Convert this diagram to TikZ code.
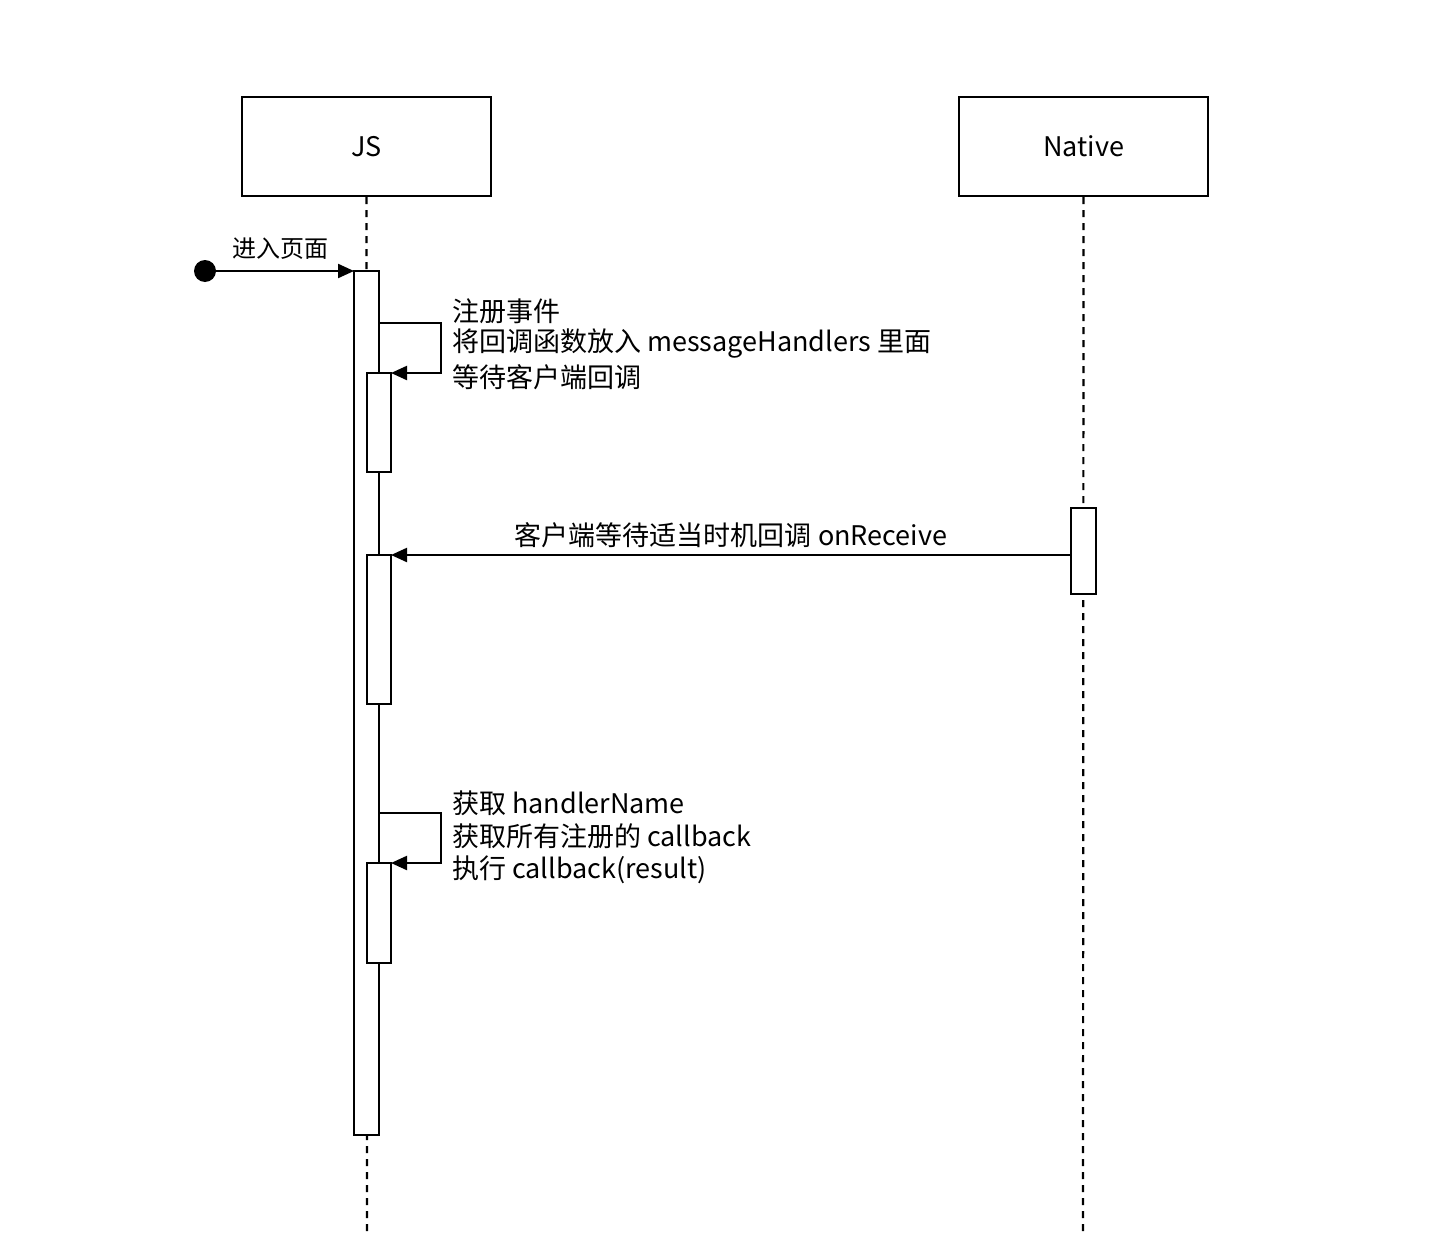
\documentclass[tikz,border=0pt]{standalone}
\usepackage{fontspec}
\setmainfont{Noto Sans CJK SC}
\usetikzlibrary{arrows.meta}
\begin{document}
\begin{tikzpicture}[x=1pt,y=-1pt,
  lw/.style={line width=2.2pt},
  box/.style={lw,draw,fill=white},
  msg/.style={lw,-{Triangle[length=16pt,width=14pt]}},
  txt/.style={anchor=west,font=\fontsize{27}{33}\selectfont,inner sep=0pt}]
\useasboundingbox (0,0) rectangle (1440,1236);
\node[box,minimum width=249pt,minimum height=99pt,font=\fontsize{27}{33}\selectfont] (js) at (366.5,146.5) {JS};
\node[box,minimum width=249pt,minimum height=99pt,font=\fontsize{27}{33}\selectfont] (nat) at (1083.5,146.5) {Native};
\coordinate (jsend) at (367,1236);
\coordinate (natend) at (1083,1236);
\draw[lw,dash pattern=on 7pt off 6pt] (js.south) -- (jsend);
\draw[lw,dash pattern=on 7pt off 6pt] (nat.south) -- (natend);
\draw[box] (354,271) rectangle (379,1135);
\draw[box] (367,373) rectangle (391,472);
\draw[box] (367,555) rectangle (391,704);
\draw[box] (367,863) rectangle (391,963);
\draw[box] (1071,508) rectangle (1096,594);
\fill (205,271) circle (11pt) coordinate (start);
\coordinate (a1) at (354,271);
\draw[msg] (start) -- (a1);
\node[font=\fontsize{24}{28}\selectfont] (l0) at (280,249) {进入页面};
\coordinate (s1) at (379,323); \coordinate (t1) at (391,373);
\draw[msg] (s1) -- (441,323) -- (441,373) -- (t1);
\node[txt] (l1) at (452,311) {注册事件};
\node[txt] (l2) at (452,344) {将回调函数放入 messageHandlers 里面};
\node[txt] (l3) at (452,377) {等待客户端回调};
\coordinate (s2) at (1071,555); \coordinate (t2) at (391,555);
\draw[msg] (s2) -- (t2);
\node[font=\fontsize{27}{33}\selectfont] (l4) at (731,535) {客户端等待适当时机回调 onReceive};
\coordinate (s3) at (379,813); \coordinate (t3) at (391,863);
\draw[msg] (s3) -- (441,813) -- (441,863) -- (t3);
\node[txt] (l5) at (452,803) {获取 handlerName};
\node[txt] (l6) at (452,836) {获取所有注册的 callback};
\node[txt] (l7) at (452,870) {执行 callback(result)};
\end{tikzpicture}
\end{document}
